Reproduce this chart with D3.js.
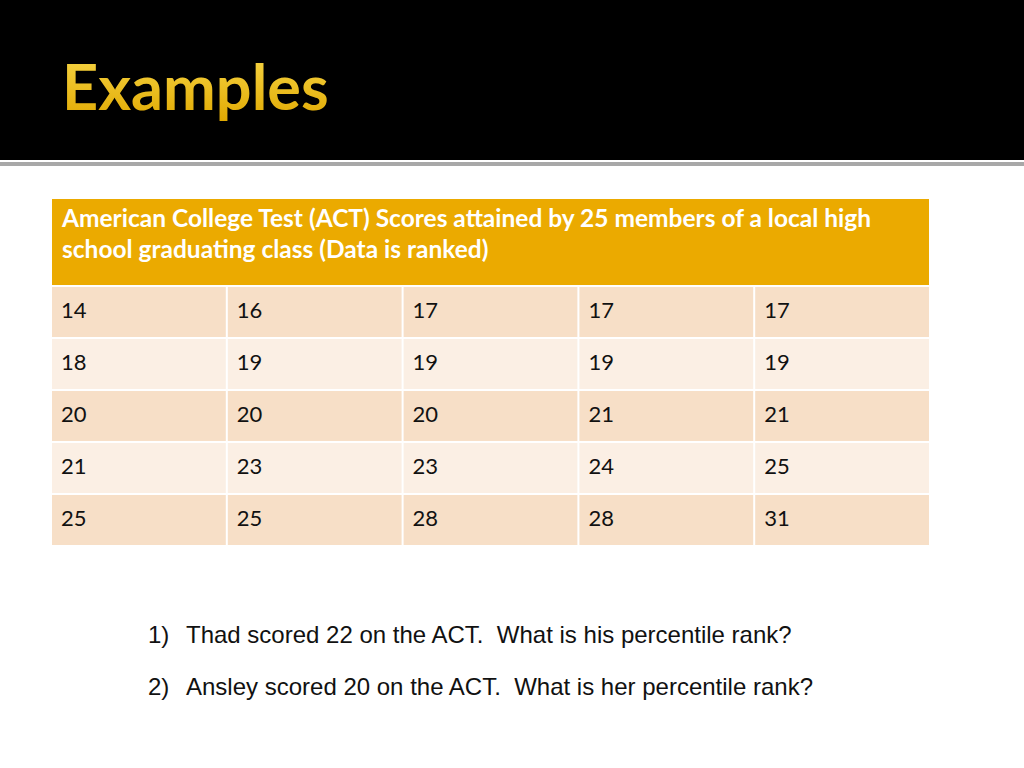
<!DOCTYPE html>
<html><head><meta charset="utf-8">
<script src="https://cdn.jsdelivr.net/npm/d3@7"></script>
<style>body{margin:0;background:#fff} text{white-space:pre}</style>
</head><body>
<svg id="slide" width="1024" height="768"></svg>
<script>
// ACT scores, ranked, 5 per row
const scores = [14,16,17,17,17, 18,19,19,19,19, 20,20,20,21,21, 21,23,23,24,25, 25,25,28,28,31];
const columns = [0,1,2,3,4];
const headerLines = ["American College Test (ACT) Scores attained by 25 members of a local high",
                     "school graduating class (Data is ranked)"];
const questions = ["Thad scored 22 on the ACT.  What is his percentile rank?",
                   "Ansley scored 20 on the ACT.  What is her percentile rank?"];

const svg = d3.select("#slide");
svg.append("rect").attr("width", 1024).attr("height", 160).attr("fill", "#000");
svg.append("rect").attr("y", 162).attr("width", 1024).attr("height", 4).attr("fill", "#a8a8a8");
const defs = svg.append("defs");
const g = defs.append("linearGradient").attr("id", "tg").attr("x1", 0).attr("y1", 0).attr("x2", 0).attr("y2", 1);
g.append("stop").attr("offset", "0").attr("stop-color", "#f8d84a");
g.append("stop").attr("offset", "1").attr("stop-color", "#e0a800");
svg.append("text").attr("x", 62).attr("y", 110).text("Examples")
  .attr("font-family", "Lato, 'Open Sans', sans-serif").attr("font-weight", "bold")
  .attr("font-size", 63).attr("fill", "url(#tg)");

const rows = d3.range(scores.length / columns.length);
const x = d3.scaleBand().domain(columns).range([52, 931]);
const y = d3.scaleBand().domain(rows).range([287, 547]);

svg.append("rect").attr("x", 52).attr("y", 199).attr("width", 877).attr("height", 86).attr("fill", "#ebaa00");
svg.selectAll("text.h").data(headerLines).enter().append("text").attr("class", "h")
  .attr("x", 62).attr("y", (d, i) => 227 + i * 31).text(d => d)
  .attr("font-family", "Lato, 'Open Sans', sans-serif").attr("font-weight", "bold")
  .attr("font-size", 24.5).attr("fill", "#fff");

const cells = svg.selectAll("g.c").data(scores).enter().append("g").attr("class", "c")
  .attr("transform", (d, i) => `translate(${x(i % 5)},${y(Math.floor(i / 5))})`);
cells.append("rect").attr("width", x.bandwidth() - 2).attr("height", y.bandwidth() - 2)
  .attr("fill", (d, i) => Math.floor(i / 5) % 2 === 0 ? "#f7dfc7" : "#fbefe4");
cells.append("text").attr("x", 9).attr("y", 31).text(d => d)
  .attr("font-family", "Lato, 'Open Sans', sans-serif").attr("font-size", 22).attr("fill", "#111");

const q = svg.selectAll("g.q").data(questions).enter().append("g").attr("class", "q")
  .attr("transform", (d, i) => `translate(0,${643 + i * 52})`)
  .attr("font-family", "'Liberation Sans', Arial, sans-serif").attr("font-size", 24).attr("fill", "#111");
q.append("text").attr("x", 148).text((d, i) => (i + 1) + ")");
q.append("text").attr("x", 186).attr("xml:space", "preserve").text(d => d);
</script>
</body></html>
